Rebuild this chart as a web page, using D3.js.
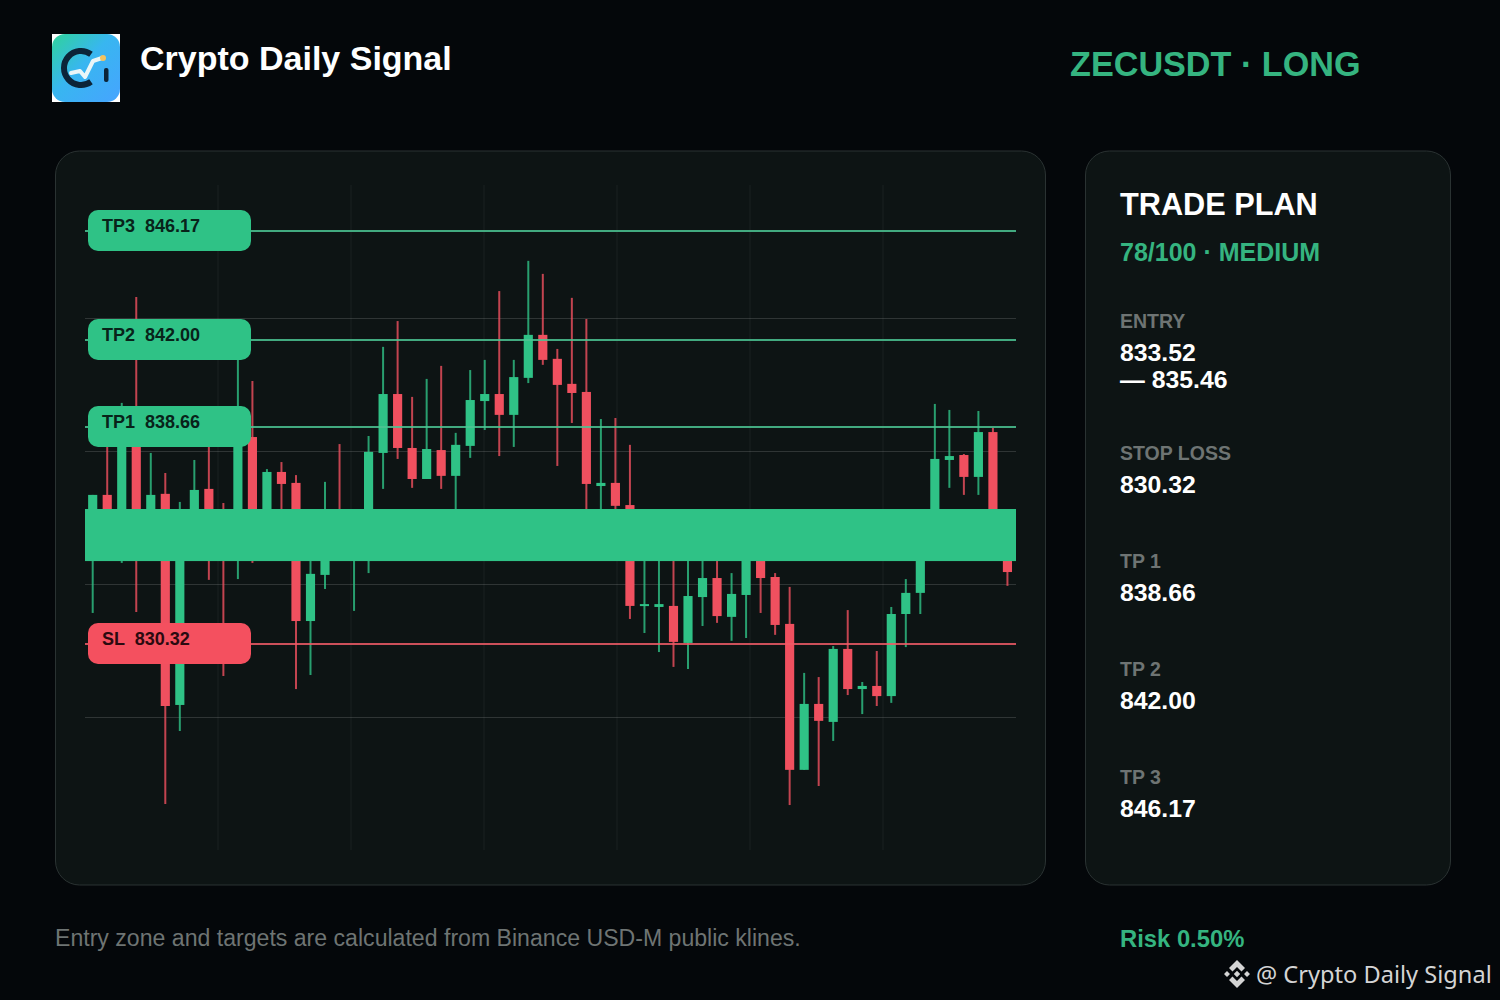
<!DOCTYPE html>
<html>
<head>
<meta charset="utf-8">
<script src="https://cdn.jsdelivr.net/npm/d3@7/dist/d3.min.js"></script>
<style>
html,body{margin:0;padding:0;background:#04070a;}
svg{display:block;}
text{font-family:"Liberation Sans",Arial,sans-serif;white-space:pre;}
</style>
</head>
<body>
<svg id="chart" width="1500" height="1000"></svg>
<script>
const title = "Crypto Daily Signal";
const headline = "ZECUSDT · LONG";
const footnote = "Entry zone and targets are calculated from Binance USD-M public klines.";
const riskText = "Risk 0.50%";
const watermark = "@ Crypto Daily Signal";
const planTitle = "TRADE PLAN";
const planScore = "78/100 · MEDIUM";

const opens  = [834.69,836.04,834.31,838.53,834.31,836.08,827.98,835.00,836.27,835.20,834.20,838.26,834.60,836.92,836.50,831.20,832.97,834.90,834.20,834.90,837.65,839.91,837.84,836.65,837.76,836.77,837.92,839.64,839.91,839.11,840.53,842.18,841.26,840.30,839.99,836.38,836.50,835.65,831.78,831.74,831.78,830.36,832.12,832.85,831.36,832.20,834.50,832.89,831.09,825.49,828.02,827.33,830.13,828.59,828.71,828.32,831.47,832.28,834.00,837.38,837.57,836.73,838.45,834.30];
const highs  = [836.04,838.30,839.57,843.63,837.65,836.88,835.77,837.38,838.30,835.73,841.40,840.41,837.03,837.30,836.80,833.60,836.54,837.99,835.00,838.30,841.72,842.71,839.80,840.49,840.99,838.42,840.83,841.22,843.86,841.22,845.02,844.52,841.64,843.60,842.79,838.95,838.99,837.96,833.90,833.90,833.90,833.90,834.00,833.90,833.04,834.60,835.00,833.04,832.51,829.21,829.05,830.24,831.62,828.86,830.05,831.74,832.81,834.40,839.53,839.30,837.61,839.26,838.61,834.50];
const lows   = [831.51,833.90,833.43,831.55,833.90,824.18,826.98,834.00,832.78,829.09,832.81,833.43,834.00,834.60,828.59,829.13,832.43,833.90,831.59,833.04,836.27,837.42,836.31,836.65,836.27,835.27,837.46,838.53,837.53,837.88,840.33,841.03,837.15,838.80,835.27,835.27,835.46,831.28,830.74,830.01,829.44,829.36,831.01,831.13,830.44,830.55,831.51,830.67,824.14,825.49,824.87,826.60,828.36,827.63,827.94,828.06,830.20,831.47,833.60,836.31,836.04,836.04,834.00,832.55];
const closes = [836.04,834.31,838.53,834.31,836.04,827.94,835.27,836.23,834.50,834.40,838.53,834.60,836.92,836.46,831.20,833.01,834.40,834.20,834.90,837.69,839.91,837.84,836.65,837.80,836.77,837.96,839.68,839.91,839.11,840.56,842.18,841.22,840.26,839.95,836.46,836.50,835.62,831.78,831.85,831.85,830.40,832.16,832.85,831.39,832.24,834.50,832.85,831.05,825.49,828.02,827.37,830.13,828.59,828.71,828.32,831.47,832.28,834.00,837.42,837.53,836.73,838.45,834.30,833.08];

const entryLow = 833.52, entryHigh = 835.46;
const levelNames  = ["TP3","TP2","TP1","SL"];
const levelValues = [846.17,842.00,838.66,830.32];
const levelColors = ["#2fc286","#2fc286","#2fc286","#f4505f"];

const planLabels = ["ENTRY","STOP LOSS","TP 1","TP 2","TP 3"];
const planValues = [["833.52","— 835.46"],["830.32"],["838.66"],["842.00"],["846.17"]];

const UP = "#2fc286", DOWN = "#f0505f", TEXTGREEN = "#35b480", MUTED = "#6e7473";
const svg = d3.select("#chart");
const defs = svg.append("defs");
const g1 = defs.append("linearGradient").attr("id","logoGrad").attr("x1",0).attr("y1",0).attr("x2",1).attr("y2",1);
g1.append("stop").attr("offset","0").attr("stop-color","#2fd39a");
g1.append("stop").attr("offset","0.45").attr("stop-color","#38b6f0");
g1.append("stop").attr("offset","1").attr("stop-color","#46a4ff");

svg.append("rect").attr("width",1500).attr("height",1000).attr("fill","#04070a");

// logo
const logo = svg.append("g").attr("transform","translate(52,34)");
logo.append("rect").attr("width",68).attr("height",68).attr("fill","#ffffff");
logo.append("rect").attr("width",68).attr("height",68).attr("rx",13).attr("fill","url(#logoGrad)");
logo.append("path").attr("d",d3.arc()({innerRadius:14,outerRadius:20,startAngle:Math.PI*0.8,endAngle:Math.PI*2.2}))
  .attr("transform","translate(29,34)").attr("fill","#0c2438");
logo.append("path").attr("d","M19 39 L28 37 L33 43 L41 27 L50 24").attr("fill","none").attr("stroke","#eaf6f8").attr("stroke-width",4).attr("stroke-linejoin","round").attr("stroke-linecap","round");
logo.append("circle").attr("cx",51).attr("cy",24).attr("r",3).attr("fill","#f3c35f");
logo.append("rect").attr("x",52).attr("y",34).attr("width",4.5).attr("height",14).attr("rx",2).attr("fill","#0c2438");

// header text
svg.append("text").attr("x",140).attr("y",70).attr("fill","#ffffff").attr("font-size",34).attr("font-weight",700).text(title);
svg.append("text").attr("x",1070).attr("y",76).attr("fill",TEXTGREEN).attr("font-size",34.2).attr("font-weight",700).text(headline);

// panels
[[55.5,151,990,734],[1085.5,151,365,734]].forEach(([x,y,w,h])=>{
  svg.append("rect").attr("x",x).attr("y",y).attr("width",w).attr("height",h).attr("rx",24)
    .attr("fill","#0d1414").attr("stroke","#2a3232").attr("stroke-width",1);
});

// scales
const x = d3.scaleBand().domain(d3.range(opens.length)).range([85.44,1014.7]).paddingInner(0.37).paddingOuter(0.185);
const y = d3.scaleLinear().domain([822.415,847.93]).range([850,185]);

// grid
const gridX = d3.range(1,7).map(i=>85+i*133);
const gridY = d3.range(1,5).map(i=>y.range()[1]+i*133);
const grid = svg.append("g");
grid.selectAll("line.v").data(gridX).join("line").attr("class","v")
  .attr("x1",d=>d).attr("x2",d=>d).attr("y1",185).attr("y2",850).attr("stroke","#ffffff").attr("stroke-opacity",0.055);
grid.selectAll("line.h").data(gridY).join("line").attr("class","h")
  .attr("x1",85).attr("x2",1016).attr("y1",d=>d+0.5).attr("y2",d=>d+0.5).attr("stroke","#ffffff").attr("stroke-opacity",0.14);

// candles
const candles = svg.append("g");
const idx = d3.range(opens.length);
const col = i => closes[i] >= opens[i] ? UP : DOWN;
candles.selectAll("line.w").data(idx).join("line").attr("class","w")
  .attr("x1",i=>x(i)+x.bandwidth()/2).attr("x2",i=>x(i)+x.bandwidth()/2)
  .attr("y1",i=>y(highs[i])).attr("y2",i=>y(lows[i]))
  .attr("stroke",col).attr("stroke-width",2).attr("stroke-opacity",0.8);
candles.selectAll("rect").data(idx).join("rect")
  .attr("x",i=>x(i)).attr("width",x.bandwidth())
  .attr("y",i=>y(Math.max(opens[i],closes[i])))
  .attr("height",i=>Math.max(2,Math.abs(y(opens[i])-y(closes[i]))))
  .attr("fill",col);

// entry band
svg.append("rect").attr("x",85).attr("width",931).attr("y",y(entryHigh)-1).attr("height",y(entryLow)-y(entryHigh)+1.5).attr("fill",UP);

// level lines + labels
const levels = svg.append("g");
levelValues.forEach((v,i)=>{
  const yy = Math.round(y(v));
  levels.append("line").attr("x1",85).attr("x2",1016).attr("y1",yy).attr("y2",yy)
    .attr("stroke",i===3?"#ee5a66":"#4cc493").attr("stroke-width",2).attr("stroke-opacity",0.85);
  levels.append("rect").attr("x",88).attr("y",yy-21).attr("width",163).attr("height",41).attr("rx",10).attr("fill",levelColors[i]);
  levels.append("text").attr("x",102).attr("y",yy+1).attr("fill",i===3?"#2b0a10":"#08231a")
    .attr("font-size",18).attr("font-weight",700).text(levelNames[i]+"  "+v.toFixed(2));
});

// plan column
svg.append("text").attr("x",1120).attr("y",215).attr("fill","#ffffff").attr("font-size",30.7).attr("font-weight",700).text(planTitle);
svg.append("text").attr("x",1120).attr("y",261).attr("fill",TEXTGREEN).attr("font-size",25).attr("font-weight",700).text(planScore);
const labelY = [328,460,568,676,784];
const valueY = [[361,388],[493],[601],[709],[817]];
planLabels.forEach((t,i)=>{
  svg.append("text").attr("x",1120).attr("y",labelY[i]).attr("fill",MUTED).attr("font-size",19.5).attr("font-weight",700).text(t);
  planValues[i].forEach((s,j)=>{
    svg.append("text").attr("x",1120).attr("y",valueY[i][j]).attr("fill","#ffffff").attr("font-size",24.8).attr("font-weight",700).text(s);
  });
});

// footer
svg.append("text").attr("x",55).attr("y",946).attr("fill",MUTED).attr("font-size",23.1).text(footnote);
svg.append("text").attr("x",1120).attr("y",947).attr("fill",TEXTGREEN).attr("font-size",23.8).attr("font-weight",700).text(riskText);

// watermark
const wm = svg.append("g").attr("transform","translate(1237,974)").attr("fill","#d4d4d4");
wm.append("path").attr("d","M0,-14 L8,-6 L4.5,-2.5 L0,-7 L-4.5,-2.5 L-8,-6 Z M0,14 L8,6 L4.5,2.5 L0,7 L-4.5,2.5 L-8,6 Z M0,-3.2 L3.2,0 L0,3.2 L-3.2,0 Z M-10,-3 L-13,0 L-10,3 L-7,0 Z M10,-3 L13,0 L10,3 L7,0 Z");
svg.append("text").attr("x",1256).attr("y",983).attr("fill","#d4d4d4").attr("font-size",23.6).attr("style","font-family:'Noto Sans'").text(watermark);
</script>
</body>
</html>
